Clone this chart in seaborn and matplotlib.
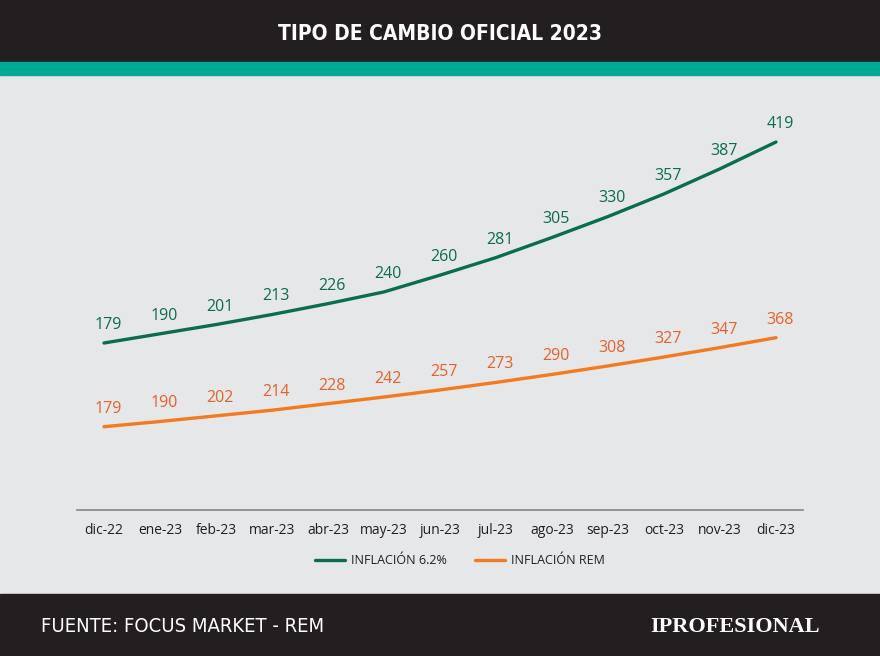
import numpy as np
import pandas as pd
import matplotlib
matplotlib.use("Agg")
import matplotlib.pyplot as plt
from matplotlib.patches import Rectangle
from matplotlib.lines import Line2D
import seaborn as sns

# datos
meses = ["dic-22", "ene-23", "feb-23", "mar-23", "abr-23", "may-23", "jun-23",
         "jul-23", "ago-23", "sep-23", "oct-23", "nov-23", "dic-23"]
inflacion_62 = [179, 190, 201, 213, 226, 240, 260, 281, 305, 330, 357, 387, 419]
inflacion_rem = [179, 190, 202, 214, 228, 242, 257, 273, 290, 308, 327, 347, 368]

verde = "#0b6c50"
naranja = "#f47a20"
naranja_txt = "#e8602a"
fondo = "#e6e7e8"
oscuro = "#231f20"
turquesa = "#00a993"

sns.set_theme(style="white")
plt.rcParams["font.family"] = ["Open Sans", "DejaVu Sans"]

df = pd.DataFrame({"mes": meses, "x": np.arange(len(meses)),
                   "v62": inflacion_62, "rem": inflacion_rem})

W, H = 880, 656
fig = plt.figure(figsize=(W / 100, H / 100), dpi=100)
fig.patch.set_facecolor(fondo)

# bandas
fig.add_artist(Rectangle((0, 1 - 62 / H), 1, 62 / H, transform=fig.transFigure,
                         color=oscuro, zorder=0))
fig.add_artist(Rectangle((0, 1 - 75 / H), 1, 13 / H, transform=fig.transFigure,
                         color=turquesa, zorder=0))
fig.add_artist(Rectangle((0, 0), 1, 62 / H, transform=fig.transFigure,
                         color=oscuro, zorder=0))

fig.text(0.5, 1 - 34 / H, "TIPO DE CAMBIO OFICIAL 2023", color="white",
         fontsize=15, fontweight="bold", ha="center", va="center",
         family="DejaVu Sans", fontstretch="condensed")
fig.text(41 / W, 1 - 627 / H, "FUENTE: FOCUS MARKET - REM", color="white",
         fontsize=14.5, ha="left", va="center",
         family="DejaVu Sans", fontstretch="condensed")
fig.text(820 / W, 1 - 627 / H, "IPROFESIONAL", color="white",
         fontsize=16, fontweight="bold", ha="right", va="center",
         family=["Liberation Serif", "DejaVu Serif"])

ax = fig.add_axes([77 / W, 1 - 510 / H, 726 / W, 420 / H])
ax.set_facecolor("none")
ax2 = ax.twinx()

sns.lineplot(data=df, x="x", y="v62", ax=ax, color=verde, linewidth=2.4)
sns.lineplot(data=df, x="x", y="rem", ax=ax2, color=naranja, linewidth=2.4)

ax.set_xlim(-0.482, 12.482)
ax.set_ylim(-20.4, 481.1)
ax2.set_ylim(2.1, 893.9)

for i, v in enumerate(inflacion_62):
    ax.annotate(str(v), (i, v), xytext=(3, 13), textcoords="offset points",
                ha="center", va="center", color=verde, fontsize=11.5)
for i, v in enumerate(inflacion_rem):
    ax2.annotate(str(v), (i, v), xytext=(3, 13), textcoords="offset points",
                 ha="center", va="center", color=naranja_txt, fontsize=11.5)

ax.set_xticks(df["x"])
ax.set_xticklabels(meses, fontsize=10, color="#231f20")
ax.tick_params(axis="x", length=0, pad=9)
ax.set_yticks([])
ax2.set_yticks([])
ax.set_xlabel("")
ax.set_ylabel("")
ax2.set_ylabel("")
for a in (ax, ax2):
    for s in ["top", "left", "right"]:
        a.spines[s].set_visible(False)
    a.spines["bottom"].set_color("#8c8c8c")
    a.spines["bottom"].set_linewidth(1.3)
ax2.spines["bottom"].set_visible(False)

handles = [Line2D([], [], color=verde, lw=2.4), Line2D([], [], color=naranja, lw=2.4)]
fig.legend(handles, ["INFLACIÓN 6.2%", "INFLACIÓN REM"], loc="center",
           bbox_to_anchor=(460 / W, 1 - 561 / H), ncol=2, frameon=False,
           fontsize=9, handlelength=2.4, columnspacing=2.2, handletextpad=0.5,
           labelcolor="#231f20")

fig.savefig("out.png", dpi=100, facecolor=fig.get_facecolor())
